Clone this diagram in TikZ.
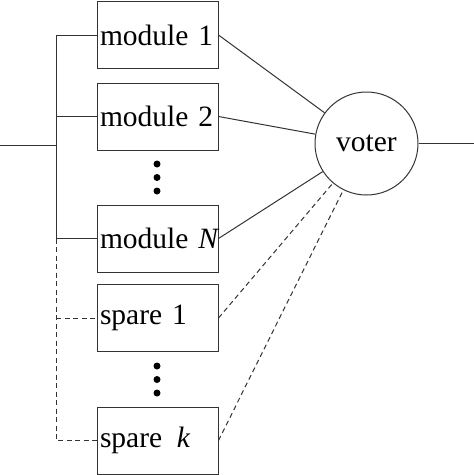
\documentclass[tikz,border=0pt]{standalone}
\usepackage{fontspec}
\setmainfont{Liberation Serif}
\begin{document}
\begin{tikzpicture}[x=1pt,y=-1pt,
  line width=1pt,
  ln/.style={draw=black!80},
  lbl/.style={font=\fontsize{29.5}{30}\selectfont},
  box/.style={lbl, draw=black!80, minimum width=121pt, minimum height=67pt,
    inner xsep=3pt, inner ysep=0pt, text width=115pt, align=left},
  spare/.style={ln, dash pattern=on 5pt off 3.5pt},
  dotm/.style={circle, fill=black, inner sep=0pt, minimum size=7pt}]
\useasboundingbox (0,0) rectangle (474,475);
\node[box] (m1) at (157.5,35) {module 1};
\node[box] (m2) at (157.5,116.5) {module 2};
\node[box] (mN) at (157.5,238.5) {\mbox{module \textit{N}}};
\node[box] (s1) at (157.5,318) {spare 1};
\node[box] (sk) at (157.5,440.5) {\mbox{spare\hspace{0.5em}\textit{k}}};
\node[dotm] (d1) at (157,164) {};
\node[dotm] (d2) at (157,177.5) {};
\node[dotm] (d3) at (157,191) {};
\node[dotm] (e1) at (157,366) {};
\node[dotm] (e2) at (157,379.5) {};
\node[dotm] (e3) at (157,393) {};
\node[lbl, circle, draw=black!80, minimum size=103pt, inner sep=0pt] (v) at (366.5,143.5) {voter};
\coordinate (in) at (0,145);
\coordinate (tr) at (56,145);
\coordinate (out) at (474,143.5);
\draw[ln] (in) -- (tr);
\draw[ln] (m1.west) -- (m1.west -| tr) -- (mN.west -| tr) -- (mN.west);
\draw[ln] (m2.west -| tr) -- (m2.west);
\draw[spare] (mN.west -| tr) -- (sk.west -| tr) -- (sk.west);
\draw[spare] (s1.west -| tr) -- (s1.west);
\draw[ln] (m1.east) -- (v);
\draw[ln] (m2.east) -- (v);
\draw[ln] (mN.east) -- (v);
\draw[spare] (s1.east) -- (v);
\draw[spare] (sk.east) -- (v);
\draw[ln] (v.east) -- (out);
\end{tikzpicture}
\end{document}
